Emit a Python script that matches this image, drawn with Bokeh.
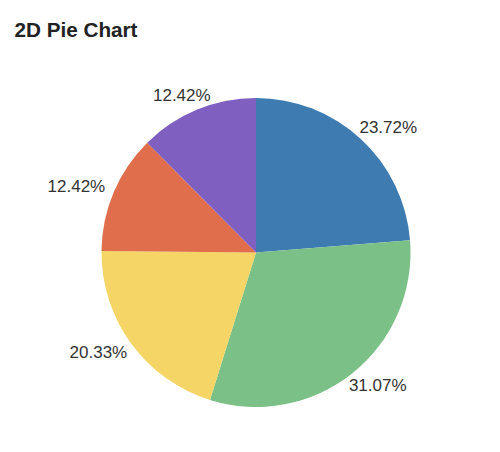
import math

from bokeh.core.properties import value
from bokeh.embed import file_html
from bokeh.models import ColumnDataSource, Range1d
from bokeh.plotting import figure
from bokeh.resources import INLINE

# slice data, clockwise from 12 o'clock
shares = [23.72, 31.07, 20.33, 12.42, 12.42]
labels = ["23.72%", "31.07%", "20.33%", "12.42%", "12.42%"]
colors = ["#3d7bb1", "#7bc086", "#f5d566", "#e06d4b", "#7f5fbf"]

W, H = 484, 436
cx, cy = 255.5, H - 252      # pie centre in plot units (1 unit = 1 px)
R = 154.5
LX, LY = 195, 170            # label ellipse radii

total = sum(shares)
starts, ends, tx, ty = [], [], [], []
acc = 0.0
for s in shares:
    a0 = math.pi / 2 - 2 * math.pi * acc / total
    a1 = math.pi / 2 - 2 * math.pi * (acc + s) / total
    starts.append(a0)
    ends.append(a1)
    mid = 2 * math.pi * (acc + s / 2) / total   # clockwise from top
    tx.append(cx + LX * math.sin(mid))
    ty.append(cy + LY * math.cos(mid))
    acc += s

src = ColumnDataSource(dict(start=starts, end=ends, color=colors,
                            tx=tx, ty=ty, label=labels))

p = figure(width=W, height=H, output_backend="svg", toolbar_location=None,
           x_range=Range1d(0, W), y_range=Range1d(0, H),
           x_axis_location=None, y_axis_location=None, min_border=0)
p.grid.visible = False
p.outline_line_color = None

p.wedge(x=cx, y=cy, radius=R, start_angle="start", end_angle="end",
        direction="clock", fill_color="color", line_color=None, source=src)

p.text(x="tx", y="ty", text="label", source=src, text_align="center",
       text_baseline="middle", text_font=value("Liberation Sans"),
       text_font_size="17px", text_color="#333333")

p.text(x=[14], y=[H - 29], text=["2D Pie Chart"], text_align="left",
       text_baseline="alphabetic", text_font=value("Liberation Sans"),
       text_font_size="20.7px", text_font_style="bold", text_color="#222222")

open("out.html", "w").write(file_html(p, INLINE))
